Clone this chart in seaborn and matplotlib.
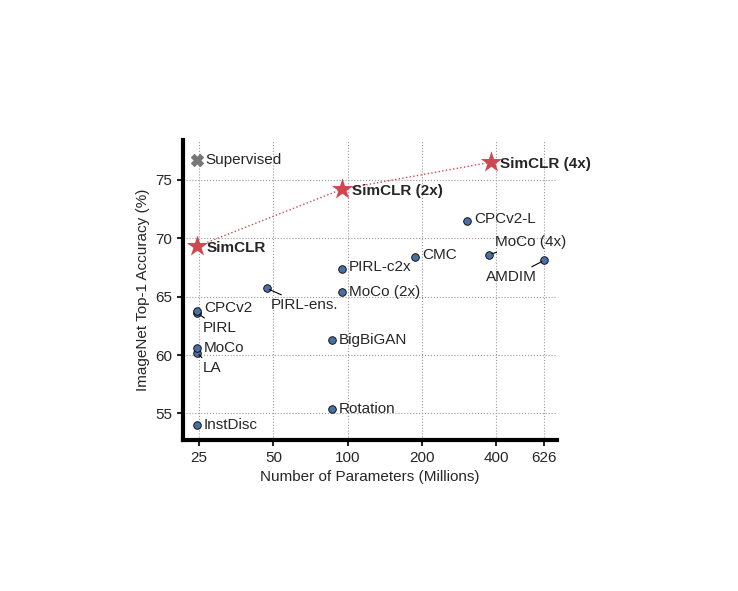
import numpy as np
import pandas as pd
import seaborn as sns
import matplotlib.pyplot as plt

# data
methods = ["InstDisc", "Rotation", "BigBiGAN", "LA", "MoCo", "PIRL", "CPCv2", "PIRL-ens.",
           "MoCo (2x)", "PIRL-c2x", "CMC", "AMDIM", "MoCo (4x)", "CPCv2-L"]
params = [24.5, 86, 86, 24.5, 24.5, 24.5, 24.5, 47, 95, 95, 188, 626, 375, 305]
acc = [54.0, 55.4, 61.3, 60.2, 60.6, 63.6, 63.8, 65.7, 65.4, 67.4, 68.4, 68.1, 68.6, 71.5]

simclr_names = ["SimCLR", "SimCLR (2x)", "SimCLR (4x)"]
simclr_params = [24.5, 95, 380]
simclr_acc = [69.3, 74.2, 76.5]

sup_params = [24.5]
sup_acc = [76.7]

xticks = [25, 50, 100, 200, 400, 626]
yticks = [55, 60, 65, 70, 75]

df = pd.DataFrame({"method": methods, "params": params, "acc": acc})
sdf = pd.DataFrame({"method": simclr_names, "params": simclr_params, "acc": simclr_acc})

sns.set_style("white")
plt.rcParams["font.family"] = ["Liberation Sans", "DejaVu Sans"]
fig = plt.figure(figsize=(7.38, 5.91), dpi=100)
ax = fig.add_axes([0.248, 0.255, 0.507, 0.508])

ax.set_xscale("log")
ax.set_xlim(21.5, 707)
ax.set_ylim(52.7, 78.4)
ax.grid(True, linestyle=":", color="#999999", linewidth=0.8)

ax.plot(simclr_params, simclr_acc, linestyle=":", color="#d0474f", linewidth=1, zorder=2)
sns.scatterplot(data=df, x="params", y="acc", ax=ax, color="#4a6fa5", edgecolor="black",
                linewidth=0.6, s=30, zorder=3, legend=False)
sns.scatterplot(data=sdf, x="params", y="acc", ax=ax, color="#d0474f", marker="*",
                s=260, linewidth=0, zorder=4, legend=False)
ax.scatter(sup_params, sup_acc, marker="X", color="#777777", s=70, zorder=4)

fs = 11
# label offsets in points (dx, dy), ha, va, leader line
offs = {
    "InstDisc": (2, 0, "left", "center", False),
    "Rotation": (2, 0, "left", "center", False),
    "BigBiGAN": (2, 0, "left", "center", False),
    "LA": (4, -11, "left", "center", True),
    "MoCo": (2, 0, "left", "center", False),
    "PIRL": (4, -11, "left", "center", True),
    "CPCv2": (2, 2, "left", "center", False),
    "PIRL-ens.": (3, -12, "left", "center", True),
    "MoCo (2x)": (2, 0, "left", "center", False),
    "PIRL-c2x": (2, 1, "left", "center", False),
    "CMC": (2, 1, "left", "center", False),
    "AMDIM": (-5, -12, "right", "center", True),
    "MoCo (4x)": (4, 9, "left", "center", True),
    "CPCv2-L": (2, 1, "left", "center", False),
}
for m, x, y in zip(methods, params, acc):
    dx, dy, ha, va, line = offs[m]
    ax.annotate(m, (x, y), xytext=(dx + (3 if not line else 0), dy), textcoords="offset points",
                ha=ha, va=va, fontsize=fs,
                arrowprops=dict(arrowstyle="-", color="black", lw=0.8, shrinkA=0, shrinkB=2) if line else None)

for m, x, y in zip(simclr_names, simclr_params, simclr_acc):
    ax.annotate(m, (x, y), xytext=(7, -1), textcoords="offset points", ha="left", va="center",
                fontsize=fs, fontweight="bold")
ax.annotate("Supervised", (sup_params[0], sup_acc[0]), xytext=(6, 0), textcoords="offset points",
            ha="left", va="center", fontsize=fs)

ax.set_xticks(xticks)
ax.set_xticklabels([str(t) for t in xticks])
ax.xaxis.set_minor_locator(plt.NullLocator())
ax.set_yticks(yticks)
ax.tick_params(labelsize=fs, length=4, width=1.5, direction="out", bottom=True, left=True)
ax.set_xlabel("Number of Parameters (Millions)", fontsize=fs)
ax.set_ylabel("ImageNet Top-1 Accuracy (%)", fontsize=fs)

for s in ["top", "right"]:
    ax.spines[s].set_visible(False)
for s in ["left", "bottom"]:
    ax.spines[s].set_linewidth(3)
    ax.spines[s].set_color("black")

fig.savefig("out.png", dpi=100)
